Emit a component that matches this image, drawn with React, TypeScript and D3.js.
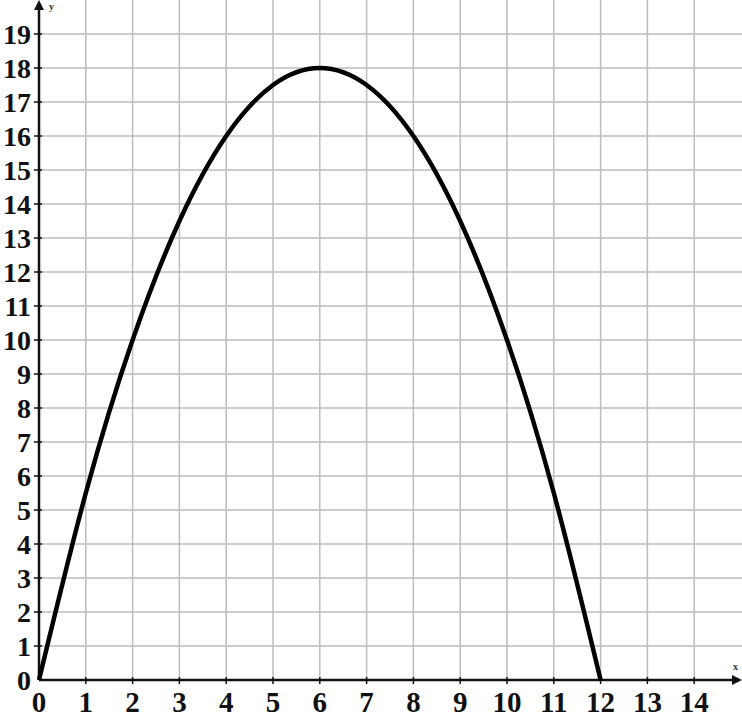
import React, { useEffect, useRef } from 'react';
import * as d3 from 'd3';

// points
const xValues = [0, 1, 2, 3, 4, 5, 6, 7, 8, 9, 10, 11, 12];
const yValues = [0, 5.5, 10, 13.5, 16, 17.5, 18, 17.5, 16, 13.5, 10, 5.5, 0];

const xTicks = [0, 1, 2, 3, 4, 5, 6, 7, 8, 9, 10, 11, 12, 13, 14];
const yTicks = [0, 1, 2, 3, 4, 5, 6, 7, 8, 9, 10, 11, 12, 13, 14, 15, 16, 17, 18, 19];

const App: React.FC = () => {
  const chartRef = useRef<SVGSVGElement>(null);

  useEffect(() => {
    const svg = d3.select(chartRef.current);
    svg.selectAll('*').remove();

    const width = 742;
    const height = 720;
    const font = '"Liberation Serif", serif';

    const x = d3.scaleLinear().domain([0, 15]).range([39, 741]);
    const y = d3.scaleLinear().domain([0, 20]).range([680, 0]);

    svg.attr('width', width).attr('height', height);

    svg.append('rect').attr('width', width).attr('height', height).attr('fill', '#fff');

    const grid = svg.append('g').attr('stroke', '#bdbdbd').attr('stroke-width', 1.5);
    grid
      .selectAll('line.v')
      .data(xTicks.slice(1))
      .join('line')
      .attr('x1', (d) => x(d))
      .attr('x2', (d) => x(d))
      .attr('y1', 0)
      .attr('y2', y(0));
    grid
      .selectAll('line.h')
      .data(yTicks.slice(1))
      .join('line')
      .attr('x1', x(0))
      .attr('x2', width)
      .attr('y1', (d) => y(d))
      .attr('y2', (d) => y(d));

    // axes
    const axes = svg.append('g').attr('stroke', '#111').attr('stroke-width', 2.5);
    axes.append('line').attr('x1', x(0)).attr('x2', width - 6).attr('y1', y(0)).attr('y2', y(0));
    axes.append('line').attr('x1', x(0)).attr('x2', x(0)).attr('y1', y(0)).attr('y2', 6);

    svg
      .append('path')
      .attr('d', `M${width},${y(0)} L${width - 10},${y(0) - 5} L${width - 10},${y(0) + 5} Z`)
      .attr('fill', '#111');
    svg
      .append('path')
      .attr('d', `M${x(0)},0 L${x(0) - 5},10 L${x(0) + 5},10 Z`)
      .attr('fill', '#111');

    // tick marks
    svg
      .append('g')
      .attr('stroke', '#111')
      .attr('stroke-width', 1.5)
      .selectAll('line')
      .data(xTicks.slice(1))
      .join('line')
      .attr('x1', (d) => x(d))
      .attr('x2', (d) => x(d))
      .attr('y1', y(0) - 3)
      .attr('y2', y(0) + 4);
    svg
      .append('g')
      .attr('stroke', '#111')
      .attr('stroke-width', 1.5)
      .selectAll('line')
      .data(yTicks.slice(1))
      .join('line')
      .attr('x1', x(0) - 5)
      .attr('x2', x(0) + 3)
      .attr('y1', (d) => y(d))
      .attr('y2', (d) => y(d));

    // tick labels
    svg
      .append('g')
      .selectAll('text')
      .data(xTicks)
      .join('text')
      .attr('x', (d) => x(d))
      .attr('y', 712)
      .attr('text-anchor', 'middle')
      .attr('font-family', font)
      .attr('font-weight', 'bold')
      .attr('font-size', 29)
      .attr('fill', '#111')
      .text((d) => d);
    svg
      .append('g')
      .selectAll('text')
      .data(yTicks)
      .join('text')
      .attr('x', 31)
      .attr('y', (d) => y(d) + 9.5)
      .attr('text-anchor', 'end')
      .attr('font-family', font)
      .attr('font-weight', 'bold')
      .attr('font-size', 28)
      .attr('fill', '#111')
      .text((d) => d);

    svg
      .append('text')
      .attr('x', 49)
      .attr('y', 10)
      .attr('font-family', font)
      .attr('font-weight', 'bold')
      .attr('font-size', 10)
      .attr('fill', '#333')
      .text('y');
    svg
      .append('text')
      .attr('x', 733)
      .attr('y', 670)
      .attr('font-family', font)
      .attr('font-weight', 'bold')
      .attr('font-size', 10)
      .attr('fill', '#333')
      .text('x');

    // curve
    const pts = xValues.map((v, i) => [v, yValues[i]] as [number, number]);
    const line = d3
      .line<[number, number]>()
      .curve(d3.curveNatural)
      .x((d) => x(d[0]))
      .y((d) => y(d[1]));
    svg
      .append('path')
      .datum(pts)
      .attr('d', line)
      .attr('fill', 'none')
      .attr('stroke', '#000')
      .attr('stroke-width', 4.5);
  }, []);

  return (
    <svg
      ref={chartRef}
      style={{ position: 'absolute', left: 0, top: 0, display: 'block' }}
    ></svg>
  );
};

export default App;
